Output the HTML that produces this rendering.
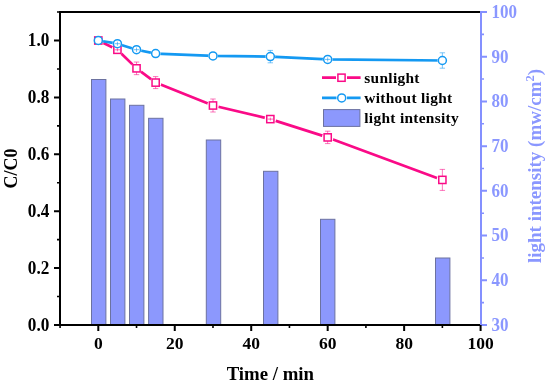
<!DOCTYPE html><html><head><meta charset="utf-8"><style>html,body{margin:0;padding:0;background:#fff;overflow:hidden}svg{display:block}text{font-family:"Liberation Serif","Times New Roman",serif;font-weight:bold}</style></head><body>
<svg width="550" height="385" viewBox="0 0 550 385">
<rect width="550" height="385" fill="#fff"/>
<rect x="91.50" y="79.50" width="14.4" height="245.50" fill="#8c98fd" stroke="#6c72a0" stroke-width="1"/>
<rect x="110.50" y="99.00" width="14.4" height="226.00" fill="#8c98fd" stroke="#6c72a0" stroke-width="1"/>
<rect x="129.50" y="105.30" width="14.4" height="219.70" fill="#8c98fd" stroke="#6c72a0" stroke-width="1"/>
<rect x="148.60" y="118.30" width="14.4" height="206.70" fill="#8c98fd" stroke="#6c72a0" stroke-width="1"/>
<rect x="206.30" y="140.00" width="14.4" height="185.00" fill="#8c98fd" stroke="#6c72a0" stroke-width="1"/>
<rect x="263.50" y="171.30" width="14.4" height="153.70" fill="#8c98fd" stroke="#6c72a0" stroke-width="1"/>
<rect x="320.50" y="219.30" width="14.4" height="105.70" fill="#8c98fd" stroke="#6c72a0" stroke-width="1"/>
<rect x="435.50" y="258.00" width="14.4" height="67.00" fill="#8c98fd" stroke="#6c72a0" stroke-width="1"/>
<mask id="msq" maskUnits="userSpaceOnUse" x="0" y="0" width="550" height="385"><rect width="550" height="385" fill="#fff"/><circle cx="98.30" cy="40.50" r="5.8" fill="#000"/><circle cx="117.41" cy="49.80" r="5.8" fill="#000"/><circle cx="136.53" cy="68.35" r="5.8" fill="#000"/><circle cx="155.64" cy="82.60" r="5.8" fill="#000"/><circle cx="212.99" cy="105.50" r="5.8" fill="#000"/><circle cx="270.33" cy="119.10" r="5.8" fill="#000"/><circle cx="327.68" cy="137.40" r="5.8" fill="#000"/><circle cx="442.37" cy="179.90" r="5.8" fill="#000"/></mask>
<polyline points="98.30,40.50 117.41,49.80 136.53,68.35 155.64,82.60 212.99,105.50 270.33,119.10 327.68,137.40 442.37,179.90" fill="none" stroke="#fa0a87" stroke-width="2.7" stroke-linejoin="round" mask="url(#msq)"/>
<rect x="94.70" y="36.90" width="7.2" height="7.2" fill="#fff" stroke="#fa0a87" stroke-width="1.5"/>
<rect x="113.81" y="46.20" width="7.2" height="7.2" fill="#fff" stroke="#fa0a87" stroke-width="1.5"/>
<path d="M117.41 48.30V51.30M114.71 49.80h5.4" stroke="#fa0a87" stroke-width="0.8" fill="none" opacity="0.75"/>
<path d="M136.53 62.05V74.65M133.83 62.05h5.4M133.83 74.65h5.4" stroke="#fa0a87" stroke-width="0.8" fill="none" opacity="0.7"/>
<rect x="132.93" y="64.75" width="7.2" height="7.2" fill="#fff" stroke="#fa0a87" stroke-width="1.5"/>
<path d="M155.64 76.60V88.60M152.94 76.60h5.4M152.94 88.60h5.4" stroke="#fa0a87" stroke-width="0.8" fill="none" opacity="0.7"/>
<rect x="152.04" y="79.00" width="7.2" height="7.2" fill="#fff" stroke="#fa0a87" stroke-width="1.5"/>
<path d="M212.99 99.00V112.00M210.29 99.00h5.4M210.29 112.00h5.4" stroke="#fa0a87" stroke-width="0.8" fill="none" opacity="0.7"/>
<rect x="209.39" y="101.90" width="7.2" height="7.2" fill="#fff" stroke="#fa0a87" stroke-width="1.5"/>
<rect x="266.73" y="115.50" width="7.2" height="7.2" fill="#fff" stroke="#fa0a87" stroke-width="1.5"/>
<path d="M270.33 117.60V120.60M267.63 119.10h5.4" stroke="#fa0a87" stroke-width="0.8" fill="none" opacity="0.75"/>
<path d="M327.68 131.20V143.60M324.98 131.20h5.4M324.98 143.60h5.4" stroke="#fa0a87" stroke-width="0.8" fill="none" opacity="0.7"/>
<rect x="324.08" y="133.80" width="7.2" height="7.2" fill="#fff" stroke="#fa0a87" stroke-width="1.5"/>
<path d="M442.37 169.40V190.40M439.67 169.40h5.4M439.67 190.40h5.4" stroke="#fa0a87" stroke-width="0.8" fill="none" opacity="0.7"/>
<rect x="438.77" y="176.30" width="7.2" height="7.2" fill="#fff" stroke="#fa0a87" stroke-width="1.5"/>
<mask id="mci" maskUnits="userSpaceOnUse" x="0" y="0" width="550" height="385"><rect width="550" height="385" fill="#fff"/><circle cx="98.30" cy="40.50" r="4.9" fill="#000"/><circle cx="117.41" cy="43.70" r="4.9" fill="#000"/><circle cx="136.53" cy="49.70" r="4.9" fill="#000"/><circle cx="155.64" cy="53.60" r="4.9" fill="#000"/><circle cx="212.99" cy="55.90" r="4.9" fill="#000"/><circle cx="270.33" cy="56.60" r="4.9" fill="#000"/><circle cx="327.68" cy="59.40" r="4.9" fill="#000"/><circle cx="442.37" cy="60.50" r="4.9" fill="#000"/></mask>
<polyline points="98.30,40.50 117.41,43.70 136.53,49.70 155.64,53.60 212.99,55.90 270.33,56.60 327.68,59.40 442.37,60.50" fill="none" stroke="#1499f2" stroke-width="2.7" stroke-linejoin="round" mask="url(#mci)"/>
<circle cx="98.30" cy="40.50" r="4" fill="#fff" stroke="#1499f2" stroke-width="1.5"/>
<circle cx="117.41" cy="43.70" r="4" fill="#fff" stroke="#1499f2" stroke-width="1.5"/>
<path d="M117.41 41.70V45.70M114.71 43.70h5.4" stroke="#1499f2" stroke-width="0.8" fill="none" opacity="0.75"/>
<circle cx="136.53" cy="49.70" r="4" fill="#fff" stroke="#1499f2" stroke-width="1.5"/>
<path d="M136.53 47.50V51.90M133.83 49.70h5.4" stroke="#1499f2" stroke-width="0.8" fill="none" opacity="0.75"/>
<circle cx="155.64" cy="53.60" r="4" fill="#fff" stroke="#1499f2" stroke-width="1.5"/>
<circle cx="212.99" cy="55.90" r="4" fill="#fff" stroke="#1499f2" stroke-width="1.5"/>
<path d="M270.33 50.40V62.80M267.63 50.40h5.4M267.63 62.80h5.4" stroke="#1499f2" stroke-width="0.8" fill="none" opacity="0.7"/>
<circle cx="270.33" cy="56.60" r="4" fill="#fff" stroke="#1499f2" stroke-width="1.5"/>
<circle cx="327.68" cy="59.40" r="4" fill="#fff" stroke="#1499f2" stroke-width="1.5"/>
<path d="M327.68 57.40V61.40M324.98 59.40h5.4" stroke="#1499f2" stroke-width="0.8" fill="none" opacity="0.75"/>
<path d="M442.37 52.80V68.20M439.67 52.80h5.4M439.67 68.20h5.4" stroke="#1499f2" stroke-width="0.8" fill="none" opacity="0.7"/>
<circle cx="442.37" cy="60.50" r="4" fill="#fff" stroke="#1499f2" stroke-width="1.5"/>
<path d="M59 12H480" fill="none" stroke="#000" stroke-width="2"/>
<path d="M60 11V326.00" fill="none" stroke="#000" stroke-width="2"/>
<path d="M59 325.00H480" fill="none" stroke="#000" stroke-width="2"/>
<path d="M481 11V326.00" fill="none" stroke="#8490ff" stroke-width="2"/>
<path d="M54 325.00H60 M54 268.10H60 M54 211.20H60 M54 154.30H60 M54 97.40H60 M54 40.50H60" stroke="#000" stroke-width="2"/>
<path d="M57 296.55H60 M57 239.65H60 M57 182.75H60 M57 125.85H60 M57 68.95H60 M57 12.05H60" stroke="#000" stroke-width="1.6"/>
<text transform="translate(49.3 330.90) scale(1 1.06)" font-size="17.2" text-anchor="end">0.0</text>
<text transform="translate(49.3 274.00) scale(1 1.06)" font-size="17.2" text-anchor="end">0.2</text>
<text transform="translate(49.3 217.10) scale(1 1.06)" font-size="17.2" text-anchor="end">0.4</text>
<text transform="translate(49.3 160.20) scale(1 1.06)" font-size="17.2" text-anchor="end">0.6</text>
<text transform="translate(49.3 103.30) scale(1 1.06)" font-size="17.2" text-anchor="end">0.8</text>
<text transform="translate(49.3 46.40) scale(1 1.06)" font-size="17.2" text-anchor="end">1.0</text>
<path d="M98.30 325.00V331 M174.76 325.00V331 M251.22 325.00V331 M327.68 325.00V331 M404.14 325.00V331 M480.60 325.00V331" stroke="#000" stroke-width="2"/>
<path d="M60.07 325.00V328 M136.53 325.00V328 M212.99 325.00V328 M289.45 325.00V328 M365.91 325.00V328 M442.37 325.00V328" stroke="#000" stroke-width="1.6"/>
<text x="98.30" y="349.2" font-size="17.5" text-anchor="middle">0</text>
<text x="174.76" y="349.2" font-size="17.5" text-anchor="middle">20</text>
<text x="251.22" y="349.2" font-size="17.5" text-anchor="middle">40</text>
<text x="327.68" y="349.2" font-size="17.5" text-anchor="middle">60</text>
<text x="404.14" y="349.2" font-size="17.5" text-anchor="middle">80</text>
<text x="480.60" y="349.2" font-size="17.5" text-anchor="middle">100</text>
<path d="M482 325.00H487 M482 280.29H487 M482 235.57H487 M482 190.86H487 M482 146.14H487 M482 101.43H487 M482 56.71H487 M482 12.00H487" stroke="#8490ff" stroke-width="2"/>
<path d="M482 302.64H484 M482 257.93H484 M482 213.21H484 M482 168.50H484 M482 123.79H484 M482 79.07H484 M482 34.36H484" stroke="#8490ff" stroke-width="1.6"/>
<text transform="translate(491.5 330.90) scale(1 1.1)" font-size="17" fill="#8a97ff">30</text>
<text transform="translate(491.5 286.19) scale(1 1.1)" font-size="17" fill="#8a97ff">40</text>
<text transform="translate(491.5 241.47) scale(1 1.1)" font-size="17" fill="#8a97ff">50</text>
<text transform="translate(491.5 196.76) scale(1 1.1)" font-size="17" fill="#8a97ff">60</text>
<text transform="translate(491.5 152.04) scale(1 1.1)" font-size="17" fill="#8a97ff">70</text>
<text transform="translate(491.5 107.33) scale(1 1.1)" font-size="17" fill="#8a97ff">80</text>
<text transform="translate(491.5 62.61) scale(1 1.1)" font-size="17" fill="#8a97ff">90</text>
<text transform="translate(491.5 17.90) scale(1 1.1)" font-size="17" fill="#8a97ff">100</text>
<text x="270.3" y="380" font-size="18.8" text-anchor="middle">Time / min</text>
<text transform="translate(17.3 168.6) rotate(-90)" font-size="18" text-anchor="middle">C/C0</text>
<text transform="translate(541.2 166) rotate(-90)" font-size="19" text-anchor="middle" fill="#8a97ff">light intensity (mw/cm<tspan font-size="12.5" dy="-7.5">2</tspan><tspan dy="7.5">)</tspan></text>
<path d="M322 77.7H336M347 77.7H360.6" stroke="#fa0a87" stroke-width="2.7"/>
<rect x="337.9" y="74.10000000000001" width="7.2" height="7.2" fill="#fff" stroke="#fa0a87" stroke-width="1.5"/>
<path d="M322 97.9H336.5M347 97.9H360.6" stroke="#1499f2" stroke-width="2.7"/>
<circle cx="341.7" cy="97.9" r="4" fill="#fff" stroke="#1499f2" stroke-width="1.5"/>
<rect x="323.5" y="109.6" width="36.4" height="16.8" fill="#8c98fd" stroke="#6c72a0" stroke-width="1"/>
<text x="364.3" y="83.2" font-size="15.4" letter-spacing="0.3">sunlight</text>
<text x="364.3" y="103.3" font-size="15.4" letter-spacing="0.3">without light</text>
<text x="364.3" y="123" font-size="15.4" letter-spacing="0.3">light intensity</text>
</svg></body></html>
